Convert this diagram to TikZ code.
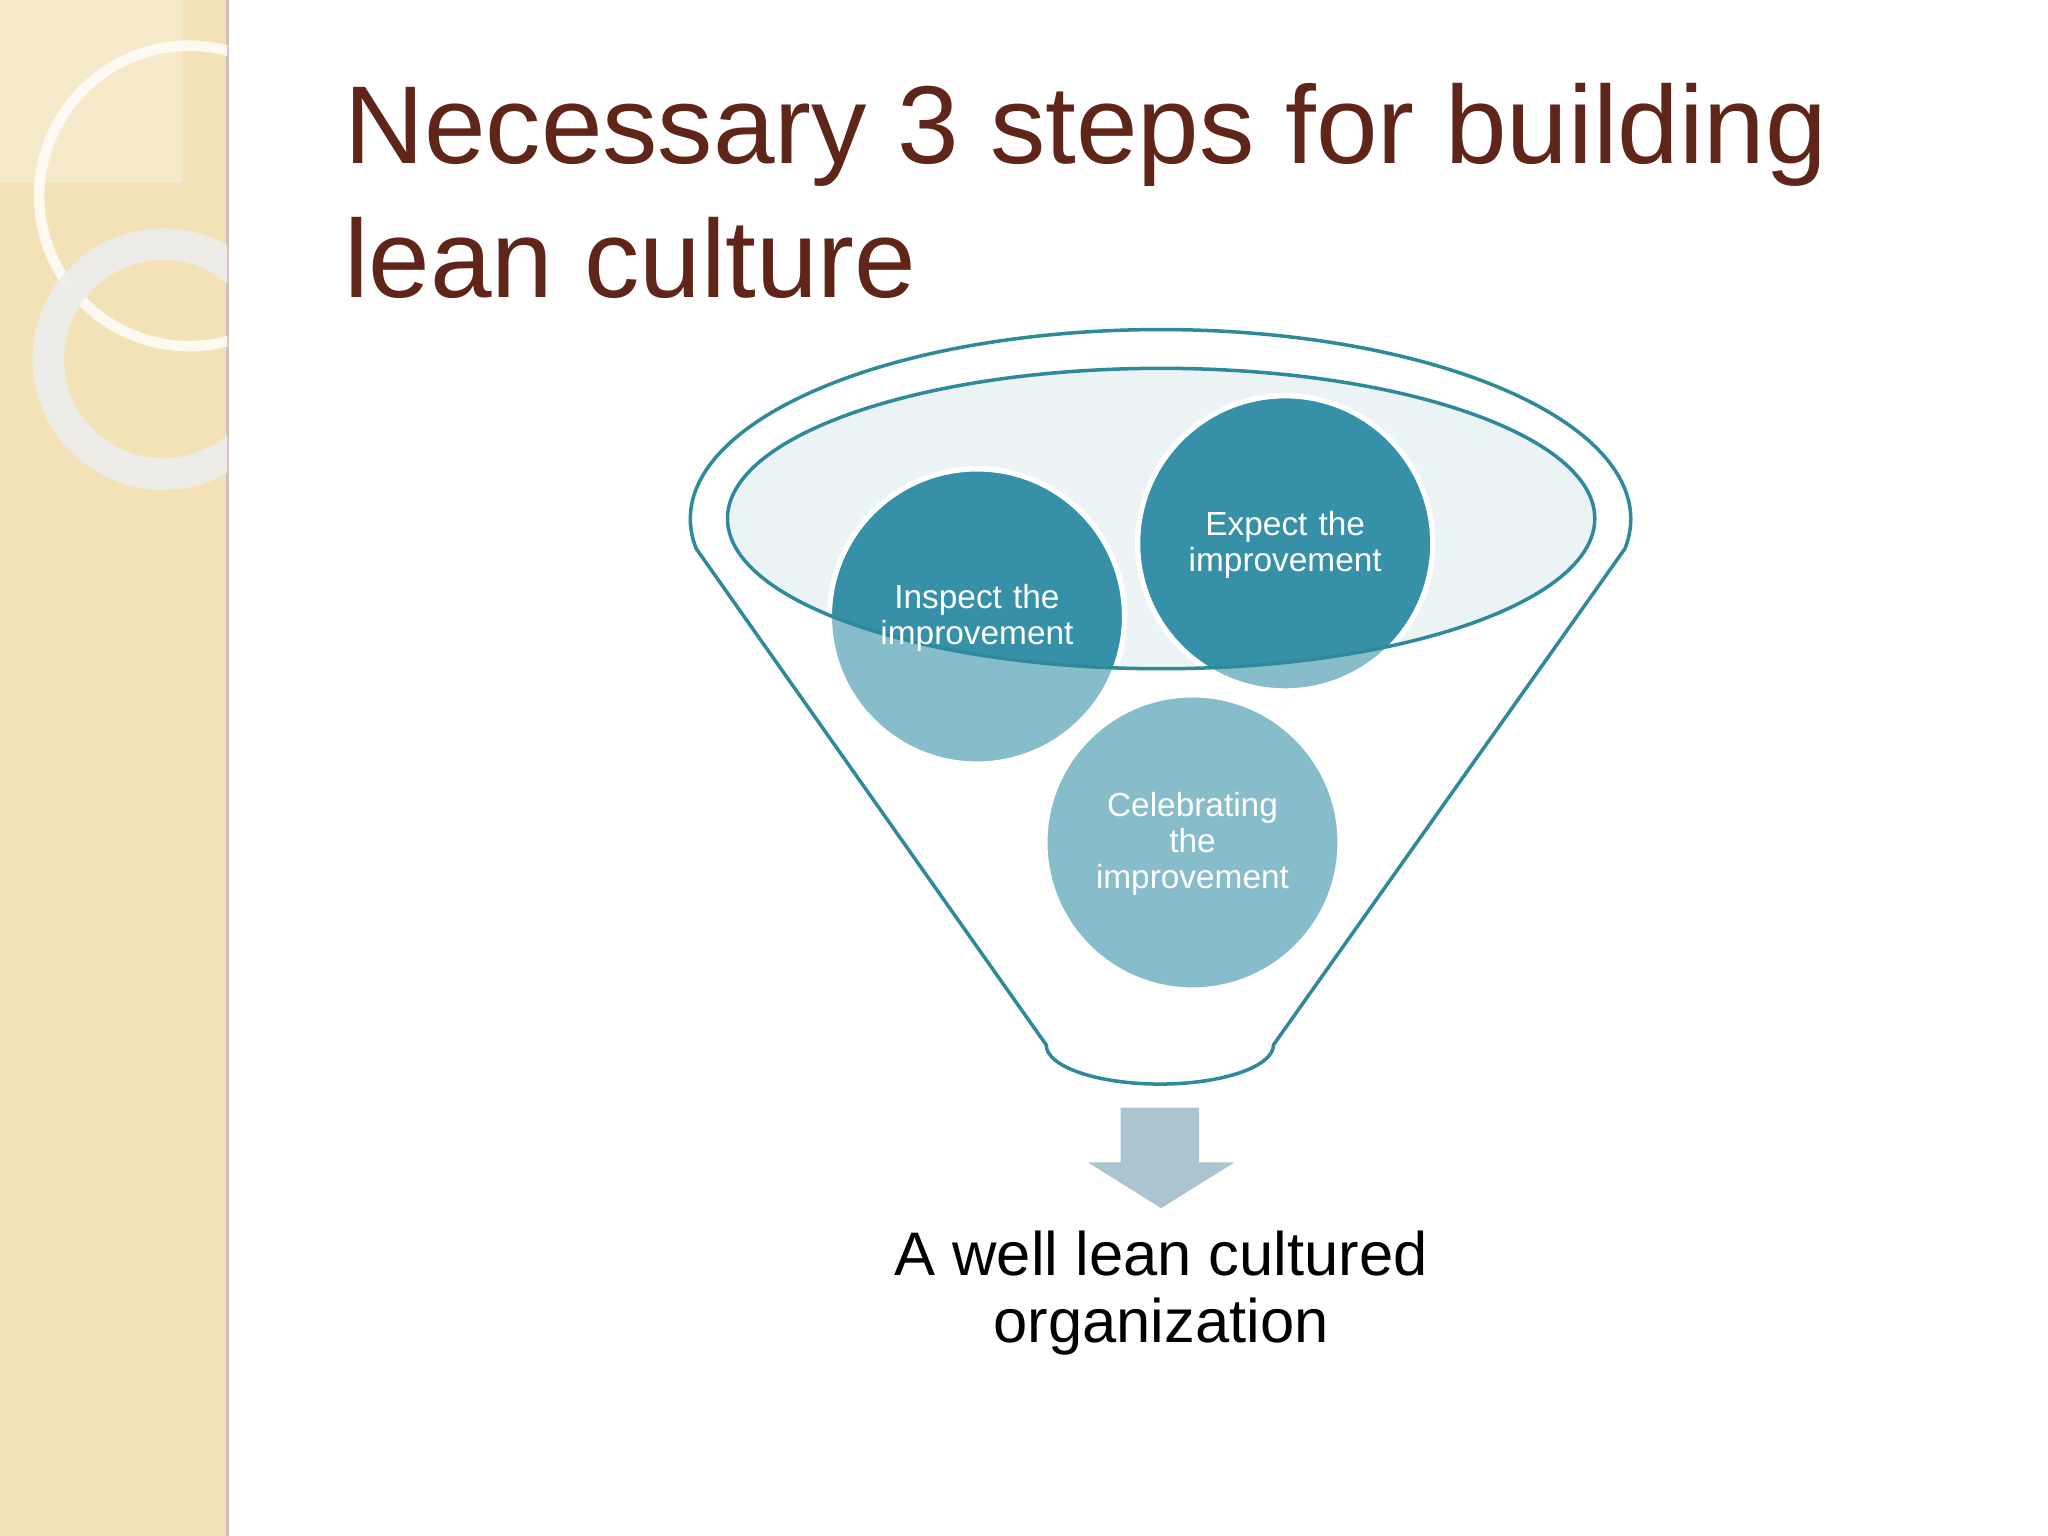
\documentclass[tikz,border=0pt]{standalone}
\usepackage{fontspec}
\setmainfont{Liberation Sans}
\begin{document}
\begin{tikzpicture}[x=0.013061cm,y=-0.013061cm,
  funnel/.style={draw=funl,line width=1pt},
  ctext/.style={text=white,align=center,font=\fontsize{9.5pt}{10.2pt}\selectfont,text width=3.2cm}]
\definecolor{funl}{HTML}{2E8A9B}
\definecolor{dark}{HTML}{3690A8}
\definecolor{light}{HTML}{87BCCB}
\definecolor{strip}{HTML}{F3E2B8}
\definecolor{brown}{HTML}{5E2518}
\definecolor{arrowc}{HTML}{AAC5D0}
\useasboundingbox (0,0) rectangle (1568,1176);
\fill[white] (0,0) rectangle (1568,1176);
% left strip
\fill[strip] (0,0) rectangle (174,1176);
\fill[white,opacity=0.25] (0,0) rectangle (140,140);
\draw[color=brown!30,line width=1pt] (174,0) -- (174,1176);
\begin{scope}
\clip (0,0) rectangle (174,1176);
\draw[white,opacity=0.8,line width=3pt] (145,150) circle (115);
\draw[white!85!gray,opacity=0.9,line width=9pt] (125,275) circle (88);
\end{scope}
% title
\node[anchor=base west,text=brown,font=\fontsize{31.5pt}{37pt}\selectfont,inner sep=0] (t1) at (263,125) {Necessary 3 steps for building};
\node[anchor=base west,text=brown,font=\fontsize{31.5pt}{37pt}\selectfont,inner sep=0] (t2) at (263,228) {lean culture};
% funnel outline
\draw[funnel] (533,420) arc[start angle=171,end angle=369,x radius=360,y radius=145]
  -- (975,800) arc[start angle=0,end angle=180,x radius=87,y radius=30] -- cycle;
% circles light
\fill[light,draw=white,line width=1.5pt] (748,472) circle (113);
\fill[light,draw=white,line width=1.5pt] (984,416) circle (113);
\node[circle,fill=light,draw=white,line width=1.5pt,minimum size=226*0.013061cm] (c3) at (913,645) {};
% inner ellipse
\fill[funl!12,opacity=0.8] (889,397) ellipse[x radius=332,y radius=115];
\begin{scope}
\clip (889,397) ellipse[x radius=332,y radius=115];
\fill[dark,draw=white,line width=1.5pt] (748,472) circle (113);
\fill[dark,draw=white,line width=1.5pt] (984,416) circle (113);
\end{scope}
\draw[funnel] (889,397) ellipse[x radius=332,y radius=115];
\node[ctext] (c1) at (748,473) {Inspect the\\improvement};
\node[ctext] (c2) at (984,417) {Expect the\\improvement};
\node[ctext] at (913,646) {Celebrating\\the\\improvement};
% arrow
\fill[arrowc] (858,848) -- (918,848) -- (918,890) -- (945,890) -- (889,925) -- (833,890) -- (858,890) -- cycle;
\node[align=center,font=\fontsize{17.5pt}{19pt}\selectfont] (res) at (889,990) {A well lean cultured\\organization};
\end{tikzpicture}
\end{document}
